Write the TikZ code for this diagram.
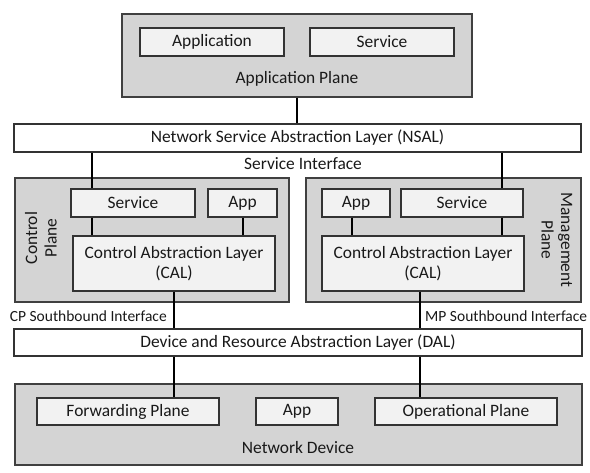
\documentclass[tikz,border=0pt]{standalone}
\usepackage{fontspec}
\setmainfont{Carlito}
\begin{document}
\begin{tikzpicture}[x=1pt,y=-1pt,
  outerbox/.style={draw=black!75,line width=1.3pt,fill=black!17,minimum width=#1,inner sep=0pt},
  innerbox/.style={draw=black!80,line width=1.1pt,fill=black!5,inner sep=0pt,align=center},
  layerbox/.style={draw=black!80,line width=1.1pt,fill=white,inner sep=0pt},
  txt/.style={inner sep=0pt,align=center},
  sblabel/.style={inner sep=0pt,font=\fontsize{15.5}{18}\selectfont},
  conn/.style={line width=2pt,black},
  every node/.style={font=\fontsize{17.4}{19.5}\selectfont,text=black!90}]
\useasboundingbox (0,0) rectangle (590,473);
% Application plane
\node[outerbox=350pt,minimum height=83pt] (ap) at (297,55.5) {};
\node[innerbox,minimum width=144pt,minimum height=28pt] (apapp) at (212,42) {Application};
\node[innerbox,minimum width=144pt,minimum height=28pt] (apsvc) at (382,42) {Service};
\node[txt] (aplab) at (297,79) {Application Plane};
% NSAL
\node[layerbox,minimum width=567pt,minimum height=28pt] (nsal) at (297.5,138) {Network Service Abstraction Layer (NSAL)};
\node[txt] (si) at (303,164) {Service Interface};
% Control plane
\node[outerbox=274pt,minimum height=124pt] (cp) at (152,240) {};
\node[innerbox,minimum width=124pt,minimum height=28pt] (csvc) at (133,203) {Service};
\node[innerbox,minimum width=69pt,minimum height=28pt] (capp) at (242.5,203) {App};
\node[innerbox,minimum width=202pt,minimum height=55pt] (ccal) at (174,263.5) {Control Abstraction Layer\\(CAL)};
\node[txt,rotate=90] (cplab) at (41,238) {Control\\Plane};
% Management plane
\node[outerbox=275pt,minimum height=124pt] (mp) at (443.5,240) {};
\node[innerbox,minimum width=68pt,minimum height=28pt] (mapp) at (356,203) {App};
\node[innerbox,minimum width=122pt,minimum height=28pt] (msvc) at (462,203) {Service};
\node[innerbox,minimum width=202pt,minimum height=55pt] (mcal) at (423,263.5) {Control Abstraction Layer\\(CAL)};
\node[txt,rotate=-90] (mplab) at (557,240) {Management\\Plane};
% Southbound labels
\node[sblabel,anchor=east] (cpsb) at (167,316) {CP Southbound Interface};
\node[sblabel,anchor=west] (mpsb) at (425,316) {MP Southbound Interface};
% DAL
\node[layerbox,minimum width=568pt,minimum height=27pt] (dal) at (298,342.5) {Device and Resource Abstraction Layer (DAL)};
% Network device
\node[outerbox=567pt,minimum height=81pt] (nd) at (298.5,424.5) {};
\node[innerbox,minimum width=182pt,minimum height=27pt] (fwd) at (128,411.5) {Forwarding Plane};
\node[innerbox,minimum width=82pt,minimum height=27pt] (ndapp) at (297,411.5) {App};
\node[innerbox,minimum width=182pt,minimum height=27pt] (op) at (466,411.5) {Operational Plane};
\node[txt] (ndlab) at (298,448) {Network Device};
% connector x positions
\coordinate (xa) at (92,0);
\coordinate (xb) at (243,0);
\coordinate (xc) at (174,0);
\coordinate (xd) at (502,0);
\coordinate (xe) at (352,0);
\coordinate (xf) at (420,0);
% connectors
\draw[conn] (ap.south) -- (nsal.north -| ap.south);
\draw[conn] (nsal.south -| xa) -- (csvc.north -| xa);
\draw[conn] (csvc.south -| xa) -- (ccal.north -| xa);
\draw[conn] (capp.south -| xb) -- (ccal.north -| xb);
\draw[conn] (ccal.south -| xc) -- (dal.north -| xc);
\draw[conn] (nsal.south -| xd) -- (msvc.north -| xd);
\draw[conn] (msvc.south -| xd) -- (mcal.north -| xd);
\draw[conn] (mapp.south -| xe) -- (mcal.north -| xe);
\draw[conn] (mcal.south -| xf) -- (dal.north -| xf);
\draw[conn] (dal.south -| xc) -- (fwd.north -| xc);
\draw[conn] (dal.south -| xf) -- (op.north -| xf);
\end{tikzpicture}
\end{document}
